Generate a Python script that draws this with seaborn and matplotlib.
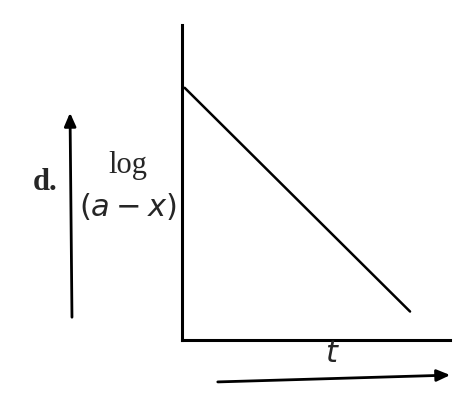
import seaborn as sns
import matplotlib.pyplot as plt

# Data: first-order decay, log(a-x) falls linearly with t
t_vals = [0.0, 0.85]
log_vals = [0.80, 0.09]

sns.set_style("white")
plt.rcParams['font.family'] = ['Liberation Serif', 'DejaVu Serif']

fig = plt.figure(figsize=(4.74, 4.13), dpi=100)

# Main plot area
ax = fig.add_axes([0.384, 0.177, 0.565, 0.763])
sns.lineplot(x=t_vals, y=log_vals, ax=ax, color="black", linewidth=1.8)
ax.set_xlim(-0.01, 1)
ax.set_ylim(0, 1)
ax.set_xticks([])
ax.set_yticks([])
for side in ["top", "right"]:
	ax.spines[side].set_visible(False)
for side in ["left", "bottom"]:
	ax.spines[side].set_color("black")
	ax.spines[side].set_linewidth(2.2)

# Overlay for labels and arrows (pixel coordinates)
ov = fig.add_axes([0, 0, 1, 1], facecolor="none")
ov.set_xlim(0, 474)
ov.set_ylim(413, 0)
ov.axis("off")

ov.annotate("", xy=(70, 110), xytext=(72, 320),
	arrowprops=dict(arrowstyle="-|>,head_length=0.8,head_width=0.35", color="black", lw=2))
ov.annotate("", xy=(453, 375), xytext=(215, 382),
	arrowprops=dict(arrowstyle="-|>,head_length=0.8,head_width=0.35", color="black", lw=2))

ov.text(45, 182, "d.", fontsize=22, fontweight="bold", ha="center", va="center")
ov.text(128, 165, "log", fontsize=22, ha="center", va="center")
ov.text(128, 207, "$(a-x)$", fontsize=22, ha="center", va="center")
ov.text(332, 355, "$t$", fontsize=22, ha="center", va="center")

plt.rcParams['mathtext.fontset'] = 'stix'
fig.savefig("out.png", dpi=100)
